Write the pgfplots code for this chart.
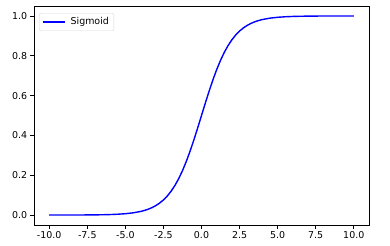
\documentclass[border=0pt]{standalone}
\usepackage{pgfplots}
\pgfplotsset{compat=1.18}
\usepackage{fontspec}
\setmainfont{DejaVu Sans}
\begin{document}
\fontsize{9.5}{11}\selectfont
\begin{tikzpicture}
\path[use as bounding box] (0,0) rectangle (390bp,246bp);
\begin{axis}[
  at={(34bp,21bp)}, anchor=south west,
  scale only axis, width=335bp, height=219bp,
  xmin=-11, xmax=11, ymin=-0.05, ymax=1.05,
  xtick={-10,-7.5,-5,-2.5,0,2.5,5,7.5,10},
  ytick={0,0.2,0.4,0.6,0.8,1.0},
  xticklabel style={/pgf/number format/.cd,fixed,fixed zerofill,precision=1},
  yticklabel style={/pgf/number format/.cd,fixed,fixed zerofill,precision=1},
  /pgf/number format/assume math mode=true,
  tick align=outside, major tick length=3.5bp,
  xtick pos=bottom, ytick pos=left,
  tick style={black, line width=0.6pt},
  axis line style={line width=0.6pt},
  ticklabel style={font=\fontsize{9.5}{11}\selectfont},
  legend style={at={(0.015,0.968)}, anchor=north west, draw=black!15, rounded corners=2pt,
    font=\fontsize{9.5}{11}\selectfont, inner xsep=3bp, inner ysep=2.5bp},
  legend cell align=left,
  legend image code/.code={\draw[#1] (0bp,0bp) -- (22bp,0bp);},
]
\addplot[blue, line width=1.4bp] coordinates {
(-10,0.0000454) (-9.5,0.0000749) (-9,0.0001234) (-8.5,0.0002034) (-8,0.0003354)
(-7.5,0.000553) (-7,0.000911) (-6.5,0.001501) (-6,0.002473) (-5.5,0.004070)
(-5,0.006693) (-4.5,0.010987) (-4,0.017986) (-3.75,0.022977) (-3.5,0.029312)
(-3.25,0.037327) (-3,0.047426) (-2.75,0.060086) (-2.5,0.075858) (-2.25,0.095349)
(-2,0.119203) (-1.75,0.148047) (-1.5,0.182426) (-1.25,0.222700) (-1,0.268941)
(-0.75,0.320821) (-0.5,0.377541) (-0.25,0.437823) (0,0.5)
(0.25,0.562177) (0.5,0.622459) (0.75,0.679179) (1,0.731059) (1.25,0.777300)
(1.5,0.817574) (1.75,0.851953) (2,0.880797) (2.25,0.904651) (2.5,0.924142)
(2.75,0.939914) (3,0.952574) (3.25,0.962673) (3.5,0.970688) (3.75,0.977023)
(4,0.982014) (4.5,0.989013) (5,0.993307) (5.5,0.995930) (6,0.997527)
(6.5,0.998499) (7,0.999089) (7.5,0.999447) (8,0.999665) (8.5,0.999797)
(9,0.999877) (9.5,0.999925) (10,0.999955)
};
\addlegendentry{\hspace{3bp}Sigmoid\hspace{1bp}}
\end{axis}
\end{tikzpicture}
\end{document}
